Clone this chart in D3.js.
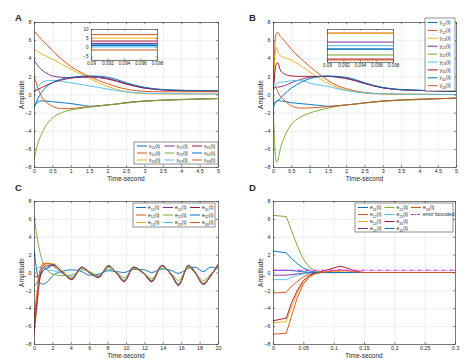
<!DOCTYPE html>
<html><head><meta charset="utf-8">
<script src="https://cdn.jsdelivr.net/npm/d3@7"></script>
<style>
body{margin:0;background:#fff}
text{font-family:"Liberation Sans",Arial,Helvetica,sans-serif;fill:#262626}
</style></head>
<body><svg id="c" width="474" height="360"></svg>
<script>
// ---------- DATA ----------
const colors = ["#0072BD","#D95319","#EDB120","#7E2F8E","#77AC30","#4DBEEE","#A2142F","#0072BD","#D95319"];
const subs = ["11","12","13","21","22","23","31","32","33"];

// Panel A: states x_ij(t)
const tA = [0,0.1,0.2,0.3,0.5,0.75,1,1.25,1.5,1.75,2,2.25,2.5,3,3.5,4,5];
const x11 = [-1.3,-0.85,-0.7,-0.72,-0.8,-0.9,-1.0,-1.15,-1.3,-1.25,-1.15,-1.05,-0.9,-0.72,-0.62,-0.55,-0.45];
const x12 = [2.0,0.8,-0.2,-0.7,-1.3,-1.55,-1.55,-1.45,-1.35,-1.25,-1.15,-1.05,-0.9,-0.72,-0.62,-0.55,-0.45];
const x13 = [5.0,4.75,4.5,4.3,3.9,3.35,2.8,2.3,1.8,1.3,0.9,0.55,0.3,0.1,0.06,0.05,0.05];
const x21 = [3.8,3.2,2.75,2.45,2.05,1.9,1.85,1.88,1.9,1.85,1.7,1.45,1.15,0.7,0.5,0.42,0.35];
const x22 = [-7.2,-5.5,-4.4,-3.6,-2.6,-2.0,-1.7,-1.55,-1.4,-1.28,-1.15,-1.05,-0.95,-0.75,-0.65,-0.58,-0.45];
const x23 = [0.3,0.9,1.3,1.5,1.55,1.45,1.3,1.12,0.95,0.78,0.6,0.44,0.3,0.15,0.1,0.08,0.05];
const x31 = [0.3,0.55,0.75,0.95,1.3,1.6,1.8,1.95,2.0,1.95,1.78,1.5,1.2,0.72,0.52,0.45,0.38];
const x32 = [-1.5,-0.5,0.2,0.7,1.3,1.7,1.9,2.0,2.05,2.02,1.9,1.65,1.3,0.8,0.55,0.47,0.4];
const x33 = [7.0,6.55,6.1,5.7,4.85,3.9,3.1,2.5,2.0,1.55,1.2,0.85,0.6,0.35,0.3,0.3,0.3];
const insetA = [1.3,-1.5,5.0,2.1,-7.2,0.2,3.4,1.0,6.9];

// Panel B: estimates y_ij(t)
const tB = [0,0.03,0.06,0.1,0.13,0.2,0.3,0.5,0.75,1,1.25,1.5,1.75,2,2.25,2.5,3,3.5,4,5];
const y11 = [-1.6,-1.2,-0.9,-0.7,-0.65,-0.7,-0.75,-0.9,-1.0,-1.1,-1.2,-1.3,-1.25,-1.15,-1.05,-0.92,-0.72,-0.6,-0.52,-0.4];
const y12 = [-1.0,3.0,6.2,6.8,6.85,6.4,6.0,5.0,4.0,3.1,2.3,1.55,1.0,0.65,0.4,0.22,0.07,0.03,0.02,0];
const y13 = [-0.5,2.5,4.6,5.2,4.8,4.3,4.1,3.8,3.2,2.5,1.8,1.25,0.8,0.5,0.3,0.15,0.05,0.02,0.01,0];
const y21 = [0.6,0.7,0.75,0.8,0.82,0.85,0.95,1.3,1.65,1.9,2.0,2.0,1.9,1.75,1.5,1.2,0.72,0.52,0.45,0.35];
const y22 = [-1.0,-4.0,-6.5,-7.5,-7.3,-6.0,-4.8,-3.3,-2.5,-2.05,-1.75,-1.5,-1.3,-1.15,-1.05,-0.95,-0.75,-0.65,-0.57,-0.4];
const y23 = [0.5,0.6,0.9,1.2,1.3,1.35,1.4,1.5,1.55,1.25,1.05,0.9,0.65,0.45,0.28,0.18,0.08,0.04,0.02,0];
const y31 = [0.5,1.5,2.8,3.4,3.5,2.7,2.3,2.05,2.0,2.0,2.0,2.0,1.95,1.8,1.55,1.25,0.75,0.52,0.45,0.32];
const y32 = [-1.0,-0.9,-0.85,-0.8,-0.7,-0.4,0.0,0.7,1.3,1.75,1.95,2.05,2.0,1.9,1.65,1.3,0.78,0.55,0.47,0.35];
const y33 = [0.5,0.75,0.8,0.6,0.3,-0.2,-0.6,-1.25,-1.5,-1.48,-1.42,-1.35,-1.25,-1.15,-1.05,-0.92,-0.72,-0.6,-0.52,-0.4];
const insetB = [-1.0,7.8,7.6,2.9,-4.2,0.9,-6.4,-0.9,-6.9];

// Panel C: errors e_ij(t), long run
const tC = [0,0.3,0.6,1,1.5,2.1,3,4.1,5.2,6,7,8.1,9,9.8,10.8,12,12.8,13.9,15,15.7,16.8,17.5,18.4,19.2,20];
const c11 = [2.5,0.2,-1.1,-1.3,-1.0,-0.3,0.1,0.3,0.1,-0.3,-0.2,0.2,0.1,0.0,0.35,0.3,0.0,0.4,0.2,-0.1,0.5,0.6,0.1,0.6,0.4];
const c12 = [-7.0,-4.0,-1.0,0.8,1.0,0.9,0.15,-0.7,0.55,0.05,-0.5,0.7,-0.05,-0.95,0.55,-0.15,-0.95,0.75,-0.35,-1.35,0.75,0.05,-1.25,-0.35,0.85];
const c13 = [-5.6,-3.0,-0.5,0.7,1.0,1.0,0.3,-0.6,0.5,0.1,-0.45,0.65,0.0,-0.9,0.5,-0.1,-0.9,0.7,-0.3,-1.3,0.7,0.1,-1.2,-0.3,0.8];
const c21 = [-0.3,-0.5,-0.3,0.2,0.5,0.8,0.1,-0.75,0.6,0.0,-0.55,0.75,-0.1,-1.0,0.6,-0.2,-1.0,0.8,-0.4,-1.4,0.8,0.0,-1.3,-0.4,0.9];
const c22 = [6.3,4.2,2.5,1.0,0.2,-0.2,-0.35,-0.3,0.3,0.1,-0.3,0.4,0.0,-0.6,0.4,-0.1,-0.7,0.5,-0.2,-0.9,0.5,0.0,-0.9,-0.2,0.6];
const c23 = [0.3,0.5,0.6,0.5,0.3,0.2,-0.05,-0.5,0.45,0.05,-0.4,0.6,0.0,-0.85,0.55,-0.1,-0.9,0.7,-0.3,-1.25,0.7,0.05,-1.2,-0.3,0.8];
const c31 = [-6.5,-3.5,-0.8,0.5,0.8,0.85,0.1,-0.8,0.6,0.0,-0.55,0.75,-0.1,-1.05,0.6,-0.2,-1.05,0.8,-0.4,-1.45,0.8,0.0,-1.3,-0.4,0.9];
const c32 = [-1.5,-1.2,-0.6,0.2,0.6,0.85,0.1,-0.75,0.6,0.0,-0.55,0.75,-0.1,-1.0,0.6,-0.2,-1.0,0.8,-0.4,-1.4,0.8,0.0,-1.3,-0.4,0.9];
const c33 = [-5.0,-2.5,0.0,1.0,1.05,0.7,0.0,-0.7,0.55,0.0,-0.5,0.7,-0.05,-0.95,0.55,-0.15,-0.95,0.75,-0.35,-1.35,0.75,0.05,-1.25,-0.35,0.85];

// Panel D: errors e_ij(t), short run
const tD = [0,0.022,0.03,0.04,0.05,0.06,0.07,0.08,0.09,0.1,0.11,0.12,0.13,0.14,0.15,0.2,0.25,0.3];
const d11 = [2.4,2.2,1.6,1.0,0.5,0.2,0.05,0,0,0,0,0,0,0,0,0,0,0];
const d12 = [-2.3,-2.2,-1.6,-1.0,-0.5,-0.2,-0.05,0,0.02,0.03,0.03,0.02,0,0,0,0,0,0];
const d13 = [-5.6,-5.5,-4.0,-2.3,-1.1,-0.45,-0.1,0,0.05,0.1,0.1,0.05,0.02,0,0,0,0,0];
const d21 = [-0.3,-0.3,-0.25,-0.15,-0.08,-0.03,0,0,0,0,0,0,0,0,0,0,0,0];
const d22 = [6.4,6.25,4.8,3.0,1.5,0.6,0.15,0,-0.02,-0.02,0,0,0,0,0,0,0,0];
const d23 = [-0.8,-0.8,-0.55,-0.3,-0.15,-0.05,0,0,0,0,0,0,0,0,0,0,0,0];
const d31 = [-5.4,-5.1,-3.5,-2.0,-0.9,-0.35,-0.05,0.1,0.3,0.5,0.7,0.55,0.3,0.1,0,0,0,0];
const d32 = [0.25,0.25,0.22,0.15,0.08,0.03,0,0,0,0,0,0,0,0,0,0,0,0];
const d33 = [-6.9,-6.8,-5.0,-2.8,-1.3,-0.5,-0.1,0,0.1,0.2,0.3,0.25,0.1,0.05,0,0,0,0];
const bound = [0.25,0.25,0.25,0.25,0.25,0.25,0.25,0.25,0.25,0.25,0.25,0.25,0.25,0.25,0.25,0.25,0.25,0.25];

const ticks5 = [0,0.5,1,1.5,2,2.5,3,3.5,4,4.5,5];
const ticks20 = [0,2,4,6,8,10,12,14,16,18,20];
const ticks03 = [0,0.05,0.1,0.15,0.2,0.25,0.3];
const yTicks8 = [-8,-6,-4,-2,0,2,4,6,8];
const insetXTicks = [0.09,0.092,0.094,0.096,0.098];
const insetYTicks = [-5,0,5,10];

// ---------- DRAW ----------
const svg = d3.select("#c");
const FS = 5.4;
let clipN = 0;

function subLabel(sel, x, y, base, sub, fs) {
  const t = sel.append("text").attr("x", x).attr("y", y).attr("font-size", fs);
  t.append("tspan").text(base);
  t.append("tspan").attr("dy", fs*0.3).attr("font-size", fs*0.72).text(sub);
  t.append("tspan").attr("dy", -fs*0.3).text("(t)");
  return t;
}

function axesFrame(g, b, xs, ys, xt, yt, grid) {
  const w = b.x1-b.x0, h = b.y1-b.y0;
  g.append("rect").attr("x",b.x0).attr("y",b.y0).attr("width",w).attr("height",h).attr("fill","#fff");
  if (grid) {
    const gx = g.append("g").attr("transform",`translate(0,${b.y1})`)
      .call(d3.axisBottom(xs).tickValues(xt).tickSize(-h).tickFormat(""));
    const gy = g.append("g").attr("transform",`translate(${b.x0},0)`)
      .call(d3.axisLeft(ys).tickValues(yt).tickSize(-w).tickFormat(""));
    [gx,gy].forEach(s=>{ s.select(".domain").remove(); s.selectAll("line").attr("stroke","#e4e4e4").attr("stroke-width",0.6); });
  }
}
function axesTicks(g, b, xs, ys, xt, yt, xfmt, yfmt, tickLen, fs) {
  const ax = [
    g.append("g").attr("transform",`translate(0,${b.y1})`).call(d3.axisBottom(xs).tickValues(xt).tickSizeInner(-tickLen).tickSizeOuter(0).tickPadding(2).tickFormat(xfmt)),
    g.append("g").attr("transform",`translate(0,${b.y0})`).call(d3.axisTop(xs).tickValues(xt).tickSizeInner(-tickLen).tickSizeOuter(0).tickFormat("")),
    g.append("g").attr("transform",`translate(${b.x0},0)`).call(d3.axisLeft(ys).tickValues(yt).tickSizeInner(-tickLen).tickSizeOuter(0).tickPadding(2.5).tickFormat(yfmt)),
    g.append("g").attr("transform",`translate(${b.x1},0)`).call(d3.axisRight(ys).tickValues(yt).tickSizeInner(-tickLen).tickSizeOuter(0).tickFormat(""))
  ];
  ax.forEach(a=>{
    a.select(".domain").attr("stroke","#262626").attr("stroke-width",0.6);
    a.selectAll("line").attr("stroke","#262626").attr("stroke-width",0.5);
    a.selectAll("text").attr("font-size",fs).attr("fill","#262626").style("font-family",'"Liberation Sans",Arial,sans-serif');
  });
}

function drawLines(g, b, xs, ys, t, series, cols, curve, width, dashes) {
  const id = "clip"+(clipN++);
  g.append("clipPath").attr("id",id).append("rect").attr("x",b.x0).attr("y",b.y0).attr("width",b.x1-b.x0).attr("height",b.y1-b.y0);
  const line = d3.line().x((d,i)=>xs(t[i])).y(d=>ys(d)).curve(curve);
  const lg = g.append("g").attr("clip-path",`url(#${id})`);
  series.forEach((s,k)=>{
    lg.append("path").attr("d",line(s)).attr("fill","none").attr("stroke",cols[k])
      .attr("stroke-width",width).attr("stroke-dasharray",dashes ? dashes[k] : null).attr("stroke-linejoin","round");
  });
}

function mainPanel(o) {
  const g = svg.append("g");
  const b = o.box;
  const xs = d3.scaleLinear().domain(o.xd).range([b.x0,b.x1]);
  const ys = d3.scaleLinear().domain([-8,8]).range([b.y1,b.y0]);
  axesFrame(g,b,xs,ys,o.xt,yTicks8,true);
  drawLines(g,b,xs,ys,o.t,o.series,o.cols||colors,o.curve,0.95,o.dashes);
  axesTicks(g,b,xs,ys,o.xt,yTicks8,d3.format("~g"),d3.format("~g"),2,FS);
  g.append("text").attr("x",(b.x0+b.x1)/2).attr("y",b.y1+13.5).attr("text-anchor","middle").attr("font-size",6.5).text("Time-second");
  g.append("text").attr("transform",`translate(${b.x0-10},${(b.y0+b.y1)/2}) rotate(-90)`).attr("text-anchor","middle").attr("font-size",6.5).text("Amplitude");
  g.append("text").attr("x",o.letter[1]).attr("y",o.letter[2]).attr("font-size",9.5).attr("font-weight","bold").attr("fill","#111").text(o.letter[0]);
  return {g,xs,ys};
}

function inset(o) {
  const g = svg.append("g");
  const b = o.box;
  const xs = d3.scaleLinear().domain([0.09,0.098]).range([b.x0,b.x1]);
  const ys = d3.scaleLinear().domain(o.yd).range([b.y1,b.y0]);
  axesFrame(g,b,xs,ys,insetXTicks,insetYTicks,false);
  const id = "clip"+(clipN++);
  g.append("clipPath").attr("id",id).append("rect").attr("x",b.x0).attr("y",b.y0).attr("width",b.x1-b.x0).attr("height",b.y1-b.y0);
  const lg = g.append("g").attr("clip-path",`url(#${id})`);
  o.values.forEach((v,k)=>{
    lg.append("line").attr("x1",xs(0.09)).attr("x2",xs(0.098)).attr("y1",ys(v)).attr("y2",ys(v))
      .attr("stroke",colors[k]).attr("stroke-width",1.0);
  });
  axesTicks(g,b,xs,ys,insetXTicks,o.showY?insetYTicks:[],d3.format("~g"),d3.format("~g"),1.5,4.6);
}

function legendGrid(o) {
  const g = svg.append("g");
  g.append("rect").attr("x",o.x).attr("y",o.y).attr("width",o.w).attr("height",o.h)
    .attr("fill","#fff").attr("stroke","#262626").attr("stroke-width",0.5);
  o.items.forEach((it,i)=>{
    const c = Math.floor(i/o.rows), r = i % o.rows;
    const lx = o.x + o.padX + c*o.colW, ly = o.y + o.padY + r*o.rowH;
    g.append("line").attr("x1",lx).attr("x2",lx+o.lineLen).attr("y1",ly).attr("y2",ly)
      .attr("stroke",it.color).attr("stroke-width",1).attr("stroke-dasharray",it.dash||null);
    if (it.sub) subLabel(g, lx+o.lineLen+2, ly+1.6, it.base, it.sub, o.fs);
    else g.append("text").attr("x",lx+o.lineLen+2).attr("y",ly+1.6).attr("font-size",o.fs).text(it.base);
  });
}

// Panel A
mainPanel({box:{x0:34,x1:218,y0:22,y1:167}, xd:[0,5], xt:ticks5, t:tA,
  series:[x11,x12,x13,x21,x22,x23,x31,x32,x33], curve:d3.curveMonotoneX, letter:["A",15,21]});
inset({box:{x0:91,x1:157,y0:29,y1:60}, yd:[-7,10], values:insetA, showY:true});
legendGrid({x:134,y:142,w:84,h:22,rows:3,colW:27.5,rowH:7,padX:3,padY:4,lineLen:10,fs:5,
  items:subs.map((s,i)=>({base:"x",sub:s,color:colors[i]}))});

// Panel B
mainPanel({box:{x0:273,x1:456,y0:22,y1:167}, xd:[0,5], xt:ticks5, t:tB,
  series:[y11,y12,y13,y21,y22,y23,y31,y32,y33], curve:d3.curveMonotoneX, letter:["B",249,21]});
inset({box:{x0:327,x1:393,y0:29,y1:62}, yd:[-8,10], values:insetB, showY:false});
legendGrid({x:425,y:18,w:30,h:73,rows:9,colW:30,rowH:7.9,padX:2.5,padY:4.5,lineLen:10,fs:5,
  items:subs.map((s,i)=>({base:"y",sub:s,color:colors[i]}))});

// Panel C
mainPanel({box:{x0:34,x1:218,y0:201,y1:344}, xd:[0,20], xt:ticks20, t:tC,
  series:[c11,c12,c13,c21,c22,c23,c31,c32,c33], curve:d3.curveMonotoneX, letter:["C",15,191]});
legendGrid({x:133,y:203,w:82,h:24,rows:3,colW:27,rowH:7.5,padX:3,padY:4.5,lineLen:10,fs:5,
  items:subs.map((s,i)=>({base:"e",sub:s,color:colors[i]}))});

// Panel D
const dCols = colors.concat(["#FF00FF"]);
const dDash = [null,null,null,null,null,null,null,null,null,"4,1.5,1,1.5"];
mainPanel({box:{x0:273,x1:455,y0:201,y1:344}, xd:[0,0.3], xt:ticks03, t:tD,
  series:[d11,d12,d13,d21,d22,d23,d31,d32,d33,bound], cols:dCols, dashes:dDash, curve:d3.curveLinear, letter:["D",249,191]});
legendGrid({x:355,y:203,w:98,h:29,rows:4,colW:26.5,rowH:7,padX:3,padY:4.5,lineLen:10,fs:5,
  items:subs.map((s,i)=>({base:"e",sub:s,color:colors[i]})).concat([{base:"error bounded",color:"#FF00FF",dash:"3,1,1,1"}])});
</script></body></html>
